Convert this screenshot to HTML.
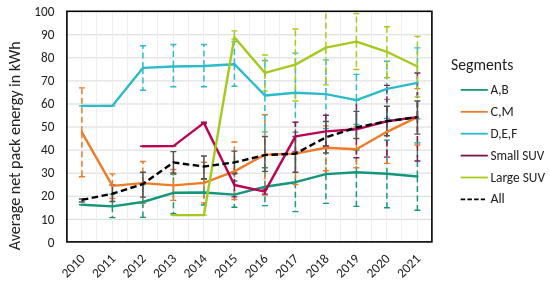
<!DOCTYPE html><html><head><meta charset="utf-8"><style>html,body{margin:0;padding:0;background:#fff;width:550px;height:285px;overflow:hidden}svg{display:block}text{font-family:Carlito,'Liberation Sans',sans-serif;fill:#222}</style></head><body>
<svg width="550" height="285" viewBox="0 0 550 285">
<rect width="550" height="285" fill="#fff"/>
<path d="M66.90 219.33H431.90M66.90 196.26H431.90M66.90 173.19H431.90M66.90 150.12H431.90M66.90 127.05H431.90M66.90 103.98H431.90M66.90 80.91H431.90M66.90 57.84H431.90M66.90 34.77H431.90" stroke="#d9d9d9" stroke-width="1" fill="none"/>
<path d="M81.50 11.30V241.90M96.50 11.30V241.90M112.50 11.30V241.90M127.50 11.30V241.90M142.50 11.30V241.90M157.50 11.30V241.90M173.50 11.30V241.90M188.50 11.30V241.90M203.50 11.30V241.90M218.50 11.30V241.90M234.50 11.30V241.90M249.50 11.30V241.90M264.50 11.30V241.90M279.50 11.30V241.90M295.50 11.30V241.90M310.50 11.30V241.90M325.50 11.30V241.90M340.50 11.30V241.90M356.50 11.30V241.90M371.50 11.30V241.90M386.50 11.30V241.90M401.50 11.30V241.90M417.50 11.30V241.90" stroke="#eeeeee" stroke-width="1" fill="none"/>
<defs><clipPath id="pc"><rect x="66.90" y="11.30" width="365.00" height="230.60"/></clipPath></defs>
<g clip-path="url(#pc)">
<path d="M112.40 206.35V194.16M112.40 206.35V217.62M142.90 201.98V184.50M142.90 201.98V217.39M173.40 192.78V174.38M173.40 192.78V213.71M203.90 192.55V179.21M203.90 192.55V204.97M234.40 194.62V181.05M234.40 194.62V207.27M264.90 186.80V167.71M264.90 186.80V205.66M295.40 182.20V153.68M295.40 182.20V211.64M325.90 174.15V145.63M325.90 174.15V203.36M356.40 172.31V150.00M356.40 172.31V206.35M386.90 173.69V140.11M386.90 173.69V207.73M417.40 176.45V142.87M417.40 176.45V210.26" stroke="#14967a" stroke-width="1.5" fill="none" stroke-dasharray="6 3.5"/>
<path d="M78.90 204.74H84.90M78.90 204.74H84.90M109.40 217.62H115.40M109.40 194.16H115.40M139.90 217.39H145.90M139.90 184.50H145.90M170.40 213.71H176.40M170.40 174.38H176.40M200.90 204.97H206.90M200.90 179.21H206.90M231.40 207.27H237.40M231.40 181.05H237.40M261.90 205.66H267.90M261.90 167.71H267.90M292.40 211.64H298.40M292.40 153.68H298.40M322.90 203.36H328.90M322.90 145.63H328.90M353.40 206.35H359.40M353.40 150.00H359.40M383.90 207.73H389.90M383.90 140.11H389.90M414.40 210.26H420.40M414.40 142.87H420.40" stroke="#14967a" stroke-width="1.4" fill="none"/>
<path d="M81.90 132.29V87.90M81.90 132.29V176.68M112.40 185.88V173.92M112.40 185.88V198.53M142.90 183.12V161.50M142.90 183.12V203.36M173.40 185.42V169.55M173.40 185.42V200.37M203.90 182.89V162.19M203.90 182.89V202.90M234.40 171.39V141.95M234.40 171.39V199.45M264.90 154.60V114.81M264.90 154.60V195.08M295.40 153.68V122.40M295.40 153.68V184.50M325.90 147.70V125.85M325.90 147.70V170.70M356.40 149.31V127.00M356.40 149.31V167.71M386.90 131.83V99.40M386.90 131.83V163.34M417.40 117.11V88.59M417.40 117.11V144.94" stroke="#ee7b28" stroke-width="1.5" fill="none" stroke-dasharray="6 3.5"/>
<path d="M78.90 176.68H84.90M78.90 87.90H84.90M109.40 198.53H115.40M109.40 173.92H115.40M139.90 203.36H145.90M139.90 161.50H145.90M170.40 200.37H176.40M170.40 169.55H176.40M200.90 202.90H206.90M200.90 162.19H206.90M231.40 199.45H237.40M231.40 141.95H237.40M261.90 195.08H267.90M261.90 114.81H267.90M292.40 184.50H298.40M292.40 122.40H298.40M322.90 170.70H328.90M322.90 125.85H328.90M353.40 167.71H359.40M353.40 127.00H359.40M383.90 163.34H389.90M383.90 99.40H389.90M414.40 144.94H420.40M414.40 88.59H420.40" stroke="#ee7b28" stroke-width="1.4" fill="none"/>
<path d="M142.90 67.89V45.81M142.90 67.89V90.20M173.40 66.51V44.43M173.40 66.51V86.75M203.90 66.05V44.43M203.90 66.05V86.75M234.40 64.21V41.67M234.40 64.21V86.29M264.90 95.49V60.53M264.90 95.49V131.83M295.40 92.73V53.17M295.40 92.73V132.29M325.90 94.11V59.84M325.90 94.11V128.61M356.40 100.09V74.33M356.40 100.09V124.47M386.90 88.82V61.22M386.90 88.82V118.49M417.40 82.84V47.88M417.40 82.84V118.72" stroke="#2bbbcb" stroke-width="1.5" fill="none" stroke-dasharray="6 3.5"/>
<path d="M78.90 105.84H84.90M78.90 105.84H84.90M109.40 105.84H115.40M109.40 105.84H115.40M139.90 90.20H145.90M139.90 45.81H145.90M170.40 86.75H176.40M170.40 44.43H176.40M200.90 86.75H206.90M200.90 44.43H206.90M231.40 86.29H237.40M231.40 41.67H237.40M261.90 131.83H267.90M261.90 60.53H267.90M292.40 132.29H298.40M292.40 53.17H298.40M322.90 128.61H328.90M322.90 59.84H328.90M353.40 124.47H359.40M353.40 74.33H359.40M383.90 118.49H389.90M383.90 61.22H389.90M414.40 118.72H420.40M414.40 47.88H420.40" stroke="#2bbbcb" stroke-width="1.4" fill="none"/>
<path d="M203.90 122.86V122.17M203.90 122.86V123.55M234.40 184.96V173.00M234.40 184.96V196.92M264.90 191.63V189.10M264.90 191.63V194.16M295.40 136.43V122.17M295.40 136.43V152.07M325.90 131.37V115.27M325.90 131.37V146.32M356.40 129.30V100.09M356.40 129.30V157.82M386.90 121.25V85.37M386.90 121.25V157.13M417.40 117.11V72.95M417.40 117.11V161.04" stroke="#7d1d5c" stroke-width="1.5" fill="none" stroke-dasharray="6 3.5"/>
<path d="M139.90 146.32H145.90M139.90 146.32H145.90M170.40 146.09H176.40M170.40 146.09H176.40M200.90 123.55H206.90M200.90 122.17H206.90M231.40 196.92H237.40M231.40 173.00H237.40M261.90 194.16H267.90M261.90 189.10H267.90M292.40 152.07H298.40M292.40 122.17H298.40M322.90 146.32H328.90M322.90 115.27H328.90M353.40 157.82H359.40M353.40 100.09H359.40M383.90 157.13H389.90M383.90 85.37H389.90M414.40 161.04H420.40M414.40 72.95H420.40" stroke="#7d1d5c" stroke-width="1.4" fill="none"/>
<path d="M234.40 37.30V30.86M234.40 37.30V39.14M264.90 72.95V55.01M264.90 72.95V91.12M295.40 64.67V29.02M295.40 64.67V101.01M325.90 47.65V-11.00M325.90 47.65V84.91M356.40 41.67V13.61M356.40 41.67V69.50M386.90 51.79V26.72M386.90 51.79V77.78M417.40 66.51V36.38M417.40 66.51V96.87" stroke="#a6c91f" stroke-width="1.5" fill="none" stroke-dasharray="6 3.5"/>
<path d="M170.40 215.09H176.40M170.40 215.09H176.40M200.90 215.09H206.90M200.90 215.09H206.90M231.40 39.14H237.40M231.40 30.86H237.40M261.90 91.12H267.90M261.90 55.01H267.90M292.40 101.01H298.40M292.40 29.02H298.40M322.90 84.91H328.90M322.90 -11.00H328.90M353.40 69.50H359.40M353.40 13.61H359.40M383.90 77.78H389.90M383.90 26.72H389.90M414.40 96.87H420.40M414.40 36.38H420.40" stroke="#a6c91f" stroke-width="1.4" fill="none"/>
<path d="M81.90 199.91V198.99M81.90 199.91V201.98M112.40 193.70V184.96M112.40 193.70V201.52M142.90 184.04V172.31M142.90 184.04V197.15M173.40 162.42V151.61M173.40 162.42V173.00M203.90 166.56V155.98M203.90 166.56V178.75M234.40 162.42V151.15M234.40 162.42V173.69M264.90 155.06V136.43M264.90 155.06V171.39M295.40 153.68V136.43M295.40 153.68V172.31M325.90 137.35V121.48M325.90 137.35V152.99M356.40 127.46V111.36M356.40 127.46V138.50M386.90 121.25V106.30M386.90 121.25V135.74M417.40 117.11V101.01M417.40 117.11V134.13" stroke="#505050" stroke-width="1.5" fill="none"/>
<path d="M78.90 201.98H84.90M78.90 198.99H84.90M109.40 201.52H115.40M109.40 184.96H115.40M139.90 197.15H145.90M139.90 172.31H145.90M170.40 173.00H176.40M170.40 151.61H176.40M200.90 178.75H206.90M200.90 155.98H206.90M231.40 173.69H237.40M231.40 151.15H237.40M261.90 171.39H267.90M261.90 136.43H267.90M292.40 172.31H298.40M292.40 136.43H298.40M322.90 152.99H328.90M322.90 121.48H328.90M353.40 138.50H359.40M353.40 111.36H359.40M383.90 135.74H389.90M383.90 106.30H389.90M414.40 134.13H420.40M414.40 101.01H420.40" stroke="#505050" stroke-width="1.4" fill="none"/>
<path d="M81.90 204.74 L112.40 206.35 L142.90 201.98 L173.40 192.78 L203.90 192.55 L234.40 194.62 L264.90 186.80 L295.40 182.20 L325.90 174.15 L356.40 172.31 L386.90 173.69 L417.40 176.45" stroke="#14967a" stroke-width="2.4" fill="none" stroke-linejoin="round" stroke-linecap="round"/>
<path d="M81.90 132.29 L112.40 185.88 L142.90 183.12 L173.40 185.42 L203.90 182.89 L234.40 171.39 L264.90 154.60 L295.40 153.68 L325.90 147.70 L356.40 149.31 L386.90 131.83 L417.40 117.11" stroke="#ee7b28" stroke-width="2.4" fill="none" stroke-linejoin="round" stroke-linecap="round"/>
<path d="M81.90 105.84 L112.40 105.84 L142.90 67.89 L173.40 66.51 L203.90 66.05 L234.40 64.21 L264.90 95.49 L295.40 92.73 L325.90 94.11 L356.40 100.09 L386.90 88.82 L417.40 82.84" stroke="#2bbbcb" stroke-width="2.4" fill="none" stroke-linejoin="round" stroke-linecap="round"/>
<path d="M142.90 146.32 L173.40 146.09 L203.90 122.86 L234.40 184.96 L264.90 191.63 L295.40 136.43 L325.90 131.37 L356.40 129.30 L386.90 121.25 L417.40 117.11" stroke="#bb0452" stroke-width="2.4" fill="none" stroke-linejoin="round" stroke-linecap="round"/>
<path d="M173.40 215.09 L203.90 215.09 L234.40 37.30 L264.90 72.95 L295.40 64.67 L325.90 47.65 L356.40 41.67 L386.90 51.79 L417.40 66.51" stroke="#a6c91f" stroke-width="2.4" fill="none" stroke-linejoin="round" stroke-linecap="round"/>
<path d="M81.90 199.91 L112.40 193.70 L142.90 184.04 L173.40 162.42 L203.90 166.56 L234.40 162.42 L264.90 155.06 L295.40 153.68 L325.90 137.35 L356.40 127.46 L386.90 121.25 L417.40 117.11" stroke="#000000" stroke-width="2.4" fill="none" stroke-linejoin="round" stroke-linecap="butt" stroke-dasharray="6.5 3.5"/>
</g>
<rect x="66.90" y="11.30" width="365.00" height="230.60" fill="none" stroke="#000" stroke-width="1.6"/>
<text x="54.4" y="246.60" font-size="13.2" text-anchor="end" textLength="6.69" lengthAdjust="spacingAndGlyphs">0</text>
<text x="54.4" y="223.53" font-size="13.2" text-anchor="end" textLength="13.38" lengthAdjust="spacingAndGlyphs">10</text>
<text x="54.4" y="200.46" font-size="13.2" text-anchor="end" textLength="13.38" lengthAdjust="spacingAndGlyphs">20</text>
<text x="54.4" y="177.39" font-size="13.2" text-anchor="end" textLength="13.38" lengthAdjust="spacingAndGlyphs">30</text>
<text x="54.4" y="154.32" font-size="13.2" text-anchor="end" textLength="13.38" lengthAdjust="spacingAndGlyphs">40</text>
<text x="54.4" y="131.25" font-size="13.2" text-anchor="end" textLength="13.38" lengthAdjust="spacingAndGlyphs">50</text>
<text x="54.4" y="108.18" font-size="13.2" text-anchor="end" textLength="13.38" lengthAdjust="spacingAndGlyphs">60</text>
<text x="54.4" y="85.11" font-size="13.2" text-anchor="end" textLength="13.38" lengthAdjust="spacingAndGlyphs">70</text>
<text x="54.4" y="62.04" font-size="13.2" text-anchor="end" textLength="13.38" lengthAdjust="spacingAndGlyphs">80</text>
<text x="54.4" y="38.97" font-size="13.2" text-anchor="end" textLength="13.38" lengthAdjust="spacingAndGlyphs">90</text>
<text x="54.4" y="15.90" font-size="13.2" text-anchor="end" textLength="20.07" lengthAdjust="spacingAndGlyphs">100</text>
<text transform="translate(85.70 259.50) rotate(-45)" font-size="13.3" text-anchor="end" textLength="26.96" lengthAdjust="spacingAndGlyphs">2010</text>
<text transform="translate(116.20 259.50) rotate(-45)" font-size="13.3" text-anchor="end" textLength="26.96" lengthAdjust="spacingAndGlyphs">2011</text>
<text transform="translate(146.70 259.50) rotate(-45)" font-size="13.3" text-anchor="end" textLength="26.96" lengthAdjust="spacingAndGlyphs">2012</text>
<text transform="translate(177.20 259.50) rotate(-45)" font-size="13.3" text-anchor="end" textLength="26.96" lengthAdjust="spacingAndGlyphs">2013</text>
<text transform="translate(207.70 259.50) rotate(-45)" font-size="13.3" text-anchor="end" textLength="26.96" lengthAdjust="spacingAndGlyphs">2014</text>
<text transform="translate(238.20 259.50) rotate(-45)" font-size="13.3" text-anchor="end" textLength="26.96" lengthAdjust="spacingAndGlyphs">2015</text>
<text transform="translate(268.70 259.50) rotate(-45)" font-size="13.3" text-anchor="end" textLength="26.96" lengthAdjust="spacingAndGlyphs">2016</text>
<text transform="translate(299.20 259.50) rotate(-45)" font-size="13.3" text-anchor="end" textLength="26.96" lengthAdjust="spacingAndGlyphs">2017</text>
<text transform="translate(329.70 259.50) rotate(-45)" font-size="13.3" text-anchor="end" textLength="26.96" lengthAdjust="spacingAndGlyphs">2018</text>
<text transform="translate(360.20 259.50) rotate(-45)" font-size="13.3" text-anchor="end" textLength="26.96" lengthAdjust="spacingAndGlyphs">2019</text>
<text transform="translate(390.70 259.50) rotate(-45)" font-size="13.3" text-anchor="end" textLength="26.96" lengthAdjust="spacingAndGlyphs">2020</text>
<text transform="translate(421.20 259.50) rotate(-45)" font-size="13.3" text-anchor="end" textLength="26.96" lengthAdjust="spacingAndGlyphs">2021</text>
<text transform="translate(20.3 145.7) rotate(-90)" font-size="15.6" text-anchor="middle" textLength="209" lengthAdjust="spacingAndGlyphs">Average net pack energy in kWh</text>
<text x="451.0" y="70.2" font-size="15.6" textLength="62.3" lengthAdjust="spacingAndGlyphs">Segments</text>
<path d="M460.7 89.90H487.8" stroke="#14967a" stroke-width="1.8" fill="none"/>
<text x="490.4" y="93.90" font-size="14.0" textLength="18.3" lengthAdjust="spacingAndGlyphs">A,B</text>
<path d="M460.7 111.80H487.8" stroke="#ee7b28" stroke-width="1.8" fill="none"/>
<text x="490.4" y="115.80" font-size="14.0" textLength="23.4" lengthAdjust="spacingAndGlyphs">C,M</text>
<path d="M460.7 133.70H487.8" stroke="#2bbbcb" stroke-width="1.8" fill="none"/>
<text x="490.4" y="137.70" font-size="14.0" textLength="26.8" lengthAdjust="spacingAndGlyphs">D,E,F</text>
<path d="M460.7 155.60H487.8" stroke="#7a1446" stroke-width="1.8" fill="none"/>
<text x="490.4" y="159.60" font-size="14.0" textLength="53.9" lengthAdjust="spacingAndGlyphs">Small SUV</text>
<path d="M460.7 177.50H487.8" stroke="#a6c91f" stroke-width="1.8" fill="none"/>
<text x="490.4" y="181.50" font-size="14.0" textLength="54.6" lengthAdjust="spacingAndGlyphs">Large SUV</text>
<path d="M460.7 199.40H485" stroke="#000" stroke-width="1.8" stroke-dasharray="4.5 2.2" fill="none"/>
<text x="490.4" y="203.40" font-size="14.0" textLength="14.4" lengthAdjust="spacingAndGlyphs">All</text>
</svg></body></html>
